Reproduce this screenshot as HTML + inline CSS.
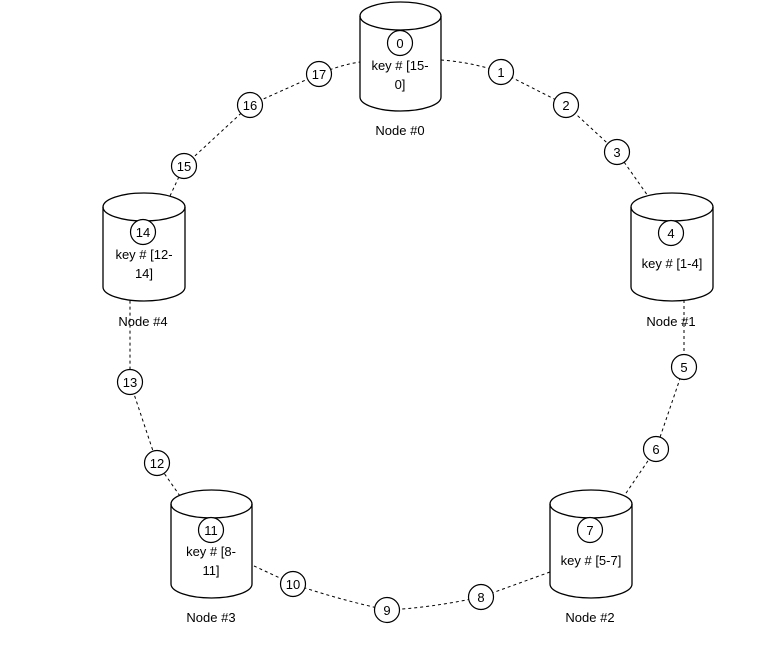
<!DOCTYPE html>
<html><head><meta charset="utf-8"><style>
html,body{margin:0;padding:0;background:#fff;}
svg{display:block;}
text{font-family:"Liberation Sans",sans-serif;font-size:13px;fill:#000;}
</style></head><body>
<svg width="780" height="648" viewBox="0 0 780 648" xmlns="http://www.w3.org/2000/svg">
<g fill="none" stroke="#000" stroke-width="1" stroke-dasharray="3,3">
<path d="M441,60 Q470,62 501,72 L566,105 L617,152 L648,196"/>
<path d="M684,300 L684,367 L656,449 L620,502"/>
<path d="M550,572 L481,597 Q430,608 387,610 Q340,600 293,584 L254,566"/>
<path d="M180,496 L157,463 L130,382 L130,300"/>
<path d="M170,196 L184,166 L250,105 L319,74 Q340,65 360,62"/>
</g>
<g fill="#fff" stroke="#000" stroke-width="1.3">
<path d="M360,16 a40.5,14 0 0 1 81,0 v81 a40.5,14 0 0 1 -81,0 z"/><path d="M360,16 a40.5,14 0 0 0 81,0" fill="none"/>
<path d="M103,207 a41,14 0 0 1 82,0 v80 a41,14 0 0 1 -82,0 z"/><path d="M103,207 a41,14 0 0 0 82,0" fill="none"/>
<path d="M631,207 a41,14 0 0 1 82,0 v80 a41,14 0 0 1 -82,0 z"/><path d="M631,207 a41,14 0 0 0 82,0" fill="none"/>
<path d="M550,504 a41,14 0 0 1 82,0 v80 a41,14 0 0 1 -82,0 z"/><path d="M550,504 a41,14 0 0 0 82,0" fill="none"/>
<path d="M171,504 a40.5,14 0 0 1 81,0 v80 a40.5,14 0 0 1 -81,0 z"/><path d="M171,504 a40.5,14 0 0 0 81,0" fill="none"/>
</g>
<g fill="#fff" stroke="#000" stroke-width="1.2">
<circle cx="400" cy="43" r="12.5"/><circle cx="143" cy="232" r="12.5"/><circle cx="671" cy="233" r="12.5"/>
<circle cx="590" cy="530" r="12.5"/><circle cx="211" cy="530" r="12.5"/>
<circle cx="319" cy="74" r="12.5"/><circle cx="501" cy="72" r="12.5"/><circle cx="566" cy="105" r="12.5"/>
<circle cx="617" cy="152" r="12.5"/><circle cx="250" cy="105" r="12.5"/><circle cx="184" cy="166" r="12.5"/>
<circle cx="684" cy="367" r="12.5"/><circle cx="656" cy="449" r="12.5"/><circle cx="130" cy="382" r="12.5"/>
<circle cx="157" cy="463" r="12.5"/><circle cx="293" cy="584" r="12.5"/><circle cx="387" cy="610" r="12.5"/>
<circle cx="481" cy="597" r="12.5"/>
</g>
<g text-anchor="middle">
<text x="400" y="48">0</text><text x="143" y="237">14</text><text x="671" y="238">4</text>
<text x="590" y="535">7</text><text x="211" y="535">11</text>
<text x="319" y="79">17</text><text x="501" y="77">1</text><text x="566" y="110">2</text>
<text x="617" y="157">3</text><text x="250" y="110">16</text><text x="184" y="171">15</text>
<text x="684" y="372">5</text><text x="656" y="454">6</text><text x="130" y="387">13</text>
<text x="157" y="468">12</text><text x="293" y="589">10</text><text x="387" y="615">9</text>
<text x="481" y="602">8</text>
<text x="400" y="70">key # [15-</text><text x="400" y="89">0]</text>
<text x="144" y="259">key # [12-</text><text x="144" y="278">14]</text>
<text x="672" y="268">key # [1-4]</text>
<text x="591" y="565">key # [5-7]</text>
<text x="211" y="556">key # [8-</text><text x="211" y="575">11]</text>
<text x="400" y="135">Node #0</text>
<text x="143" y="326">Node #4</text>
<text x="671" y="326">Node #1</text>
<text x="590" y="622">Node #2</text>
<text x="211" y="622">Node #3</text>
</g>
</svg>
</body></html>
